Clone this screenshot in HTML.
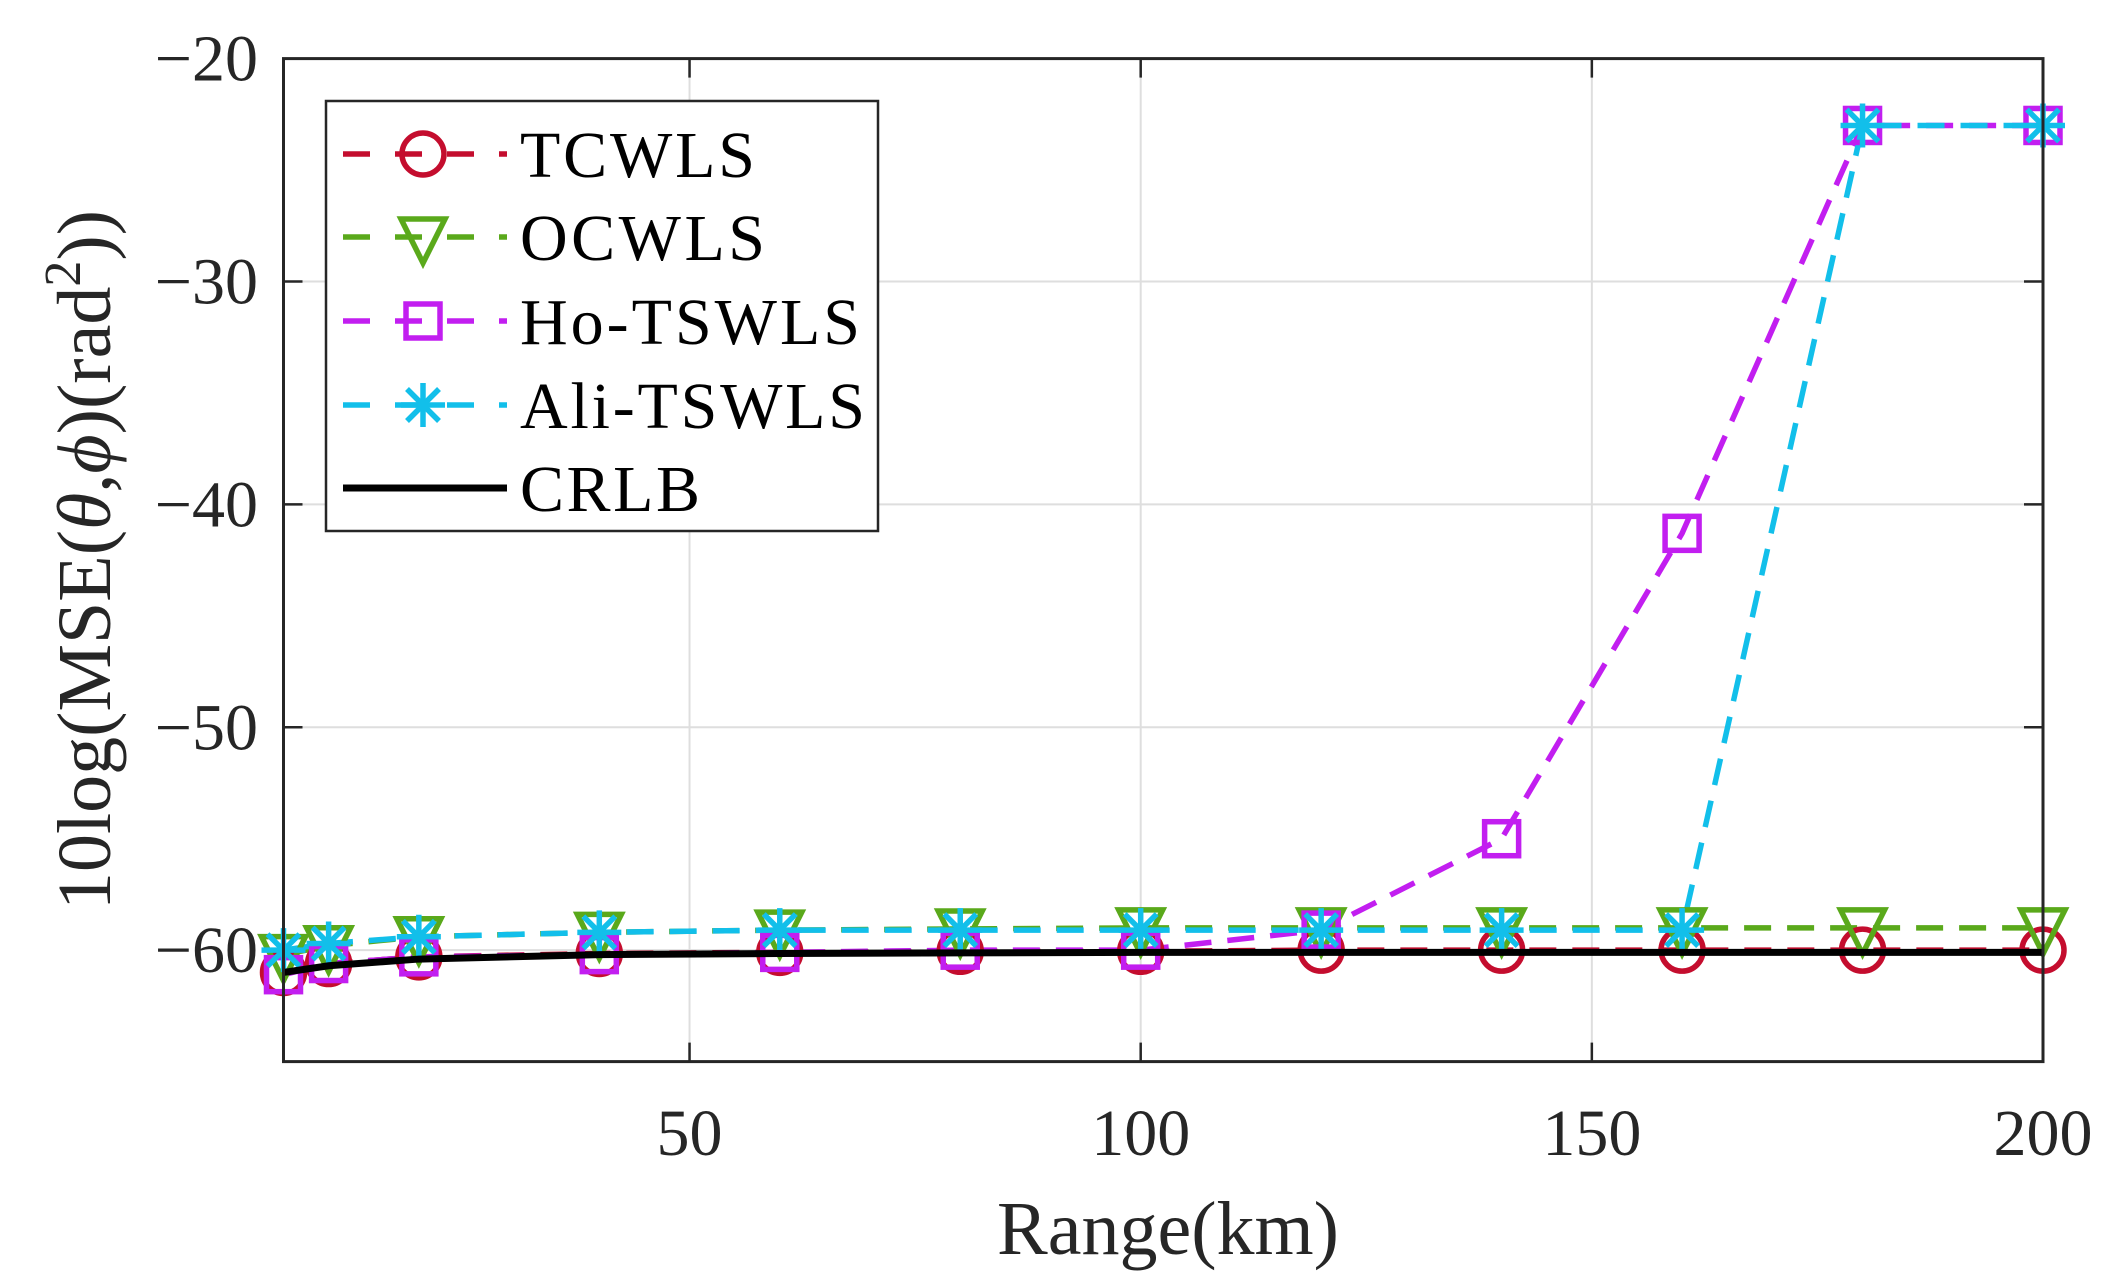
<!DOCTYPE html>
<html><head><meta charset="utf-8"><style>
html,body{margin:0;padding:0;background:#fff;}
svg{display:block;font-family:"Liberation Serif",serif;}
</style></head><body>
<svg id="s" width="2126" height="1288" xmlns="http://www.w3.org/2000/svg"></svg>
<script>
const L=283.5,R=2043,T=58.6,B=1061.6;
const X=v=>L+(v-5)*(R-L)/195, Y=v=>T+(-20-v)*(B-T)/45;
let h='<rect width="2126" height="1288" fill="#fff"/>';
[50,100,150].forEach(v=>h+=`<line x1="${X(v)}" y1="${T}" x2="${X(v)}" y2="${B}" stroke="#dedede" stroke-width="2"/>`);
[-30,-40,-50,-60].forEach(v=>h+=`<line x1="${L}" y1="${Y(v)}" x2="${R}" y2="${Y(v)}" stroke="#dedede" stroke-width="2"/>`);
[50,100,150].forEach(v=>{h+=`<line x1="${X(v)}" y1="${B}" x2="${X(v)}" y2="${B-19}" stroke="#262626" stroke-width="2.5"/><line x1="${X(v)}" y1="${T}" x2="${X(v)}" y2="${T+19}" stroke="#262626" stroke-width="2.5"/>`;});
[-30,-40,-50,-60].forEach(v=>{h+=`<line x1="${L}" y1="${Y(v)}" x2="${L+19}" y2="${Y(v)}" stroke="#262626" stroke-width="2.5"/><line x1="${R}" y1="${Y(v)}" x2="${R-19}" y2="${Y(v)}" stroke="#262626" stroke-width="2.5"/>`;});
[50,100,150,200].forEach(v=>h+=`<text x="${X(v)}" y="1155" font-size="66" text-anchor="middle" fill="#262626">${v}</text>`);
[-20,-30,-40,-50,-60].forEach(v=>h+=`<text x="258" y="${Y(v)+22}" font-size="66" text-anchor="end" fill="#262626">\u2212${-v}</text>`);
h+=`<text x="1168" y="1254" font-size="76" text-anchor="middle" fill="#262626">Range(km)</text>`;
h+=`<text transform="translate(110,560) rotate(-90)" font-size="76" text-anchor="middle" fill="#262626">10log(MSE(<tspan font-style="italic">θ</tspan>,<tspan font-style="italic">ϕ</tspan>)(rad<tspan dy="-30" font-size="52">2</tspan><tspan dy="30">))</tspan></text>`;
const xs=[5,10,20,40,60,80,100,120,140,160,180,200];
const S=[
 {c:'#c40d2e',m:'o',d:[-61,-60.6,-60.3,-60.15,-60.1,-60.05,-60.05,-60,-60,-60,-60,-60]},
 {c:'#5aa91b',m:'v',d:[-60.2,-59.8,-59.4,-59.2,-59.1,-59.05,-59,-59,-59,-59,-59,-59]},
 {c:'#c21ef0',m:'s',d:[-61.1,-60.6,-60.3,-60.2,-60.1,-60,-60,-59.1,-55,-41.3,-23,-23]},
 {c:'#12bfea',m:'*',d:[-60,-59.7,-59.4,-59.2,-59.1,-59.1,-59.1,-59.1,-59.1,-59.1,-23,-23]},
];
function mk(m,x,y,c){
 if(m=='o')return `<circle cx="${x}" cy="${y}" r="21" fill="none" stroke="${c}" stroke-width="5.5"/>`;
 if(m=='v')return `<polygon points="${x-22},${y-18} ${x+22},${y-18} ${x},${y+26}" fill="none" stroke="${c}" stroke-width="5.5"/>`;
 if(m=='s')return `<rect x="${x-17}" y="${y-17}" width="34" height="34" fill="none" stroke="${c}" stroke-width="5.5"/>`;
 let s='';[[0,22],[22,0],[16,16],[16,-16]].forEach(([a,b])=>s+=`<line x1="${x-a}" y1="${y-b}" x2="${x+a}" y2="${y+b}" stroke="${c}" stroke-width="5.5"/>`);return s;
}
S.forEach(s=>{h+=`<polyline points="${xs.map((v,i)=>X(v)+','+Y(s.d[i])).join(' ')}" fill="none" stroke="${s.c}" stroke-width="5.5" stroke-dasharray="27,16"/>`;});
S.forEach(s=>{xs.forEach((v,i)=>h+=mk(s.m,X(v),Y(s.d[i]),s.c));});
const cr=[-61,-60.7,-60.4,-60.2,-60.15,-60.12,-60.1,-60.1,-60.1,-60.1,-60.1,-60.1];
h+=`<polyline points="${xs.map((v,i)=>X(v)+','+Y(cr[i])).join(' ')}" fill="none" stroke="#000" stroke-width="7"/>`;
h+=`<rect x="${L}" y="${T}" width="${R-L}" height="${B-T}" fill="none" stroke="#262626" stroke-width="3"/>`;
h+=`<rect x="326" y="101" width="552" height="430" fill="#fff" stroke="#262626" stroke-width="2.5"/>`;
const names=['TCWLS','OCWLS','Ho-TSWLS','Ali-TSWLS','CRLB'];const ly=[154,237,321,405,488];
names.forEach((n,i)=>{
 const y=ly[i];
 if(i<4){h+=`<line x1="343" y1="${y}" x2="507" y2="${y}" stroke="${S[i].c}" stroke-width="5.5" stroke-dasharray="27,25"/>`+mk(S[i].m,423,y,S[i].c);}
 else h+=`<line x1="343" y1="${y}" x2="507" y2="${y}" stroke="#000" stroke-width="7"/>`;
 h+=`<text x="520" y="${y+23}" font-size="66" fill="#000" textLength="${[235,245,340,345,180][i]}">${n}</text>`;
});
document.getElementById('s').innerHTML=h;
</script>
</body></html>
